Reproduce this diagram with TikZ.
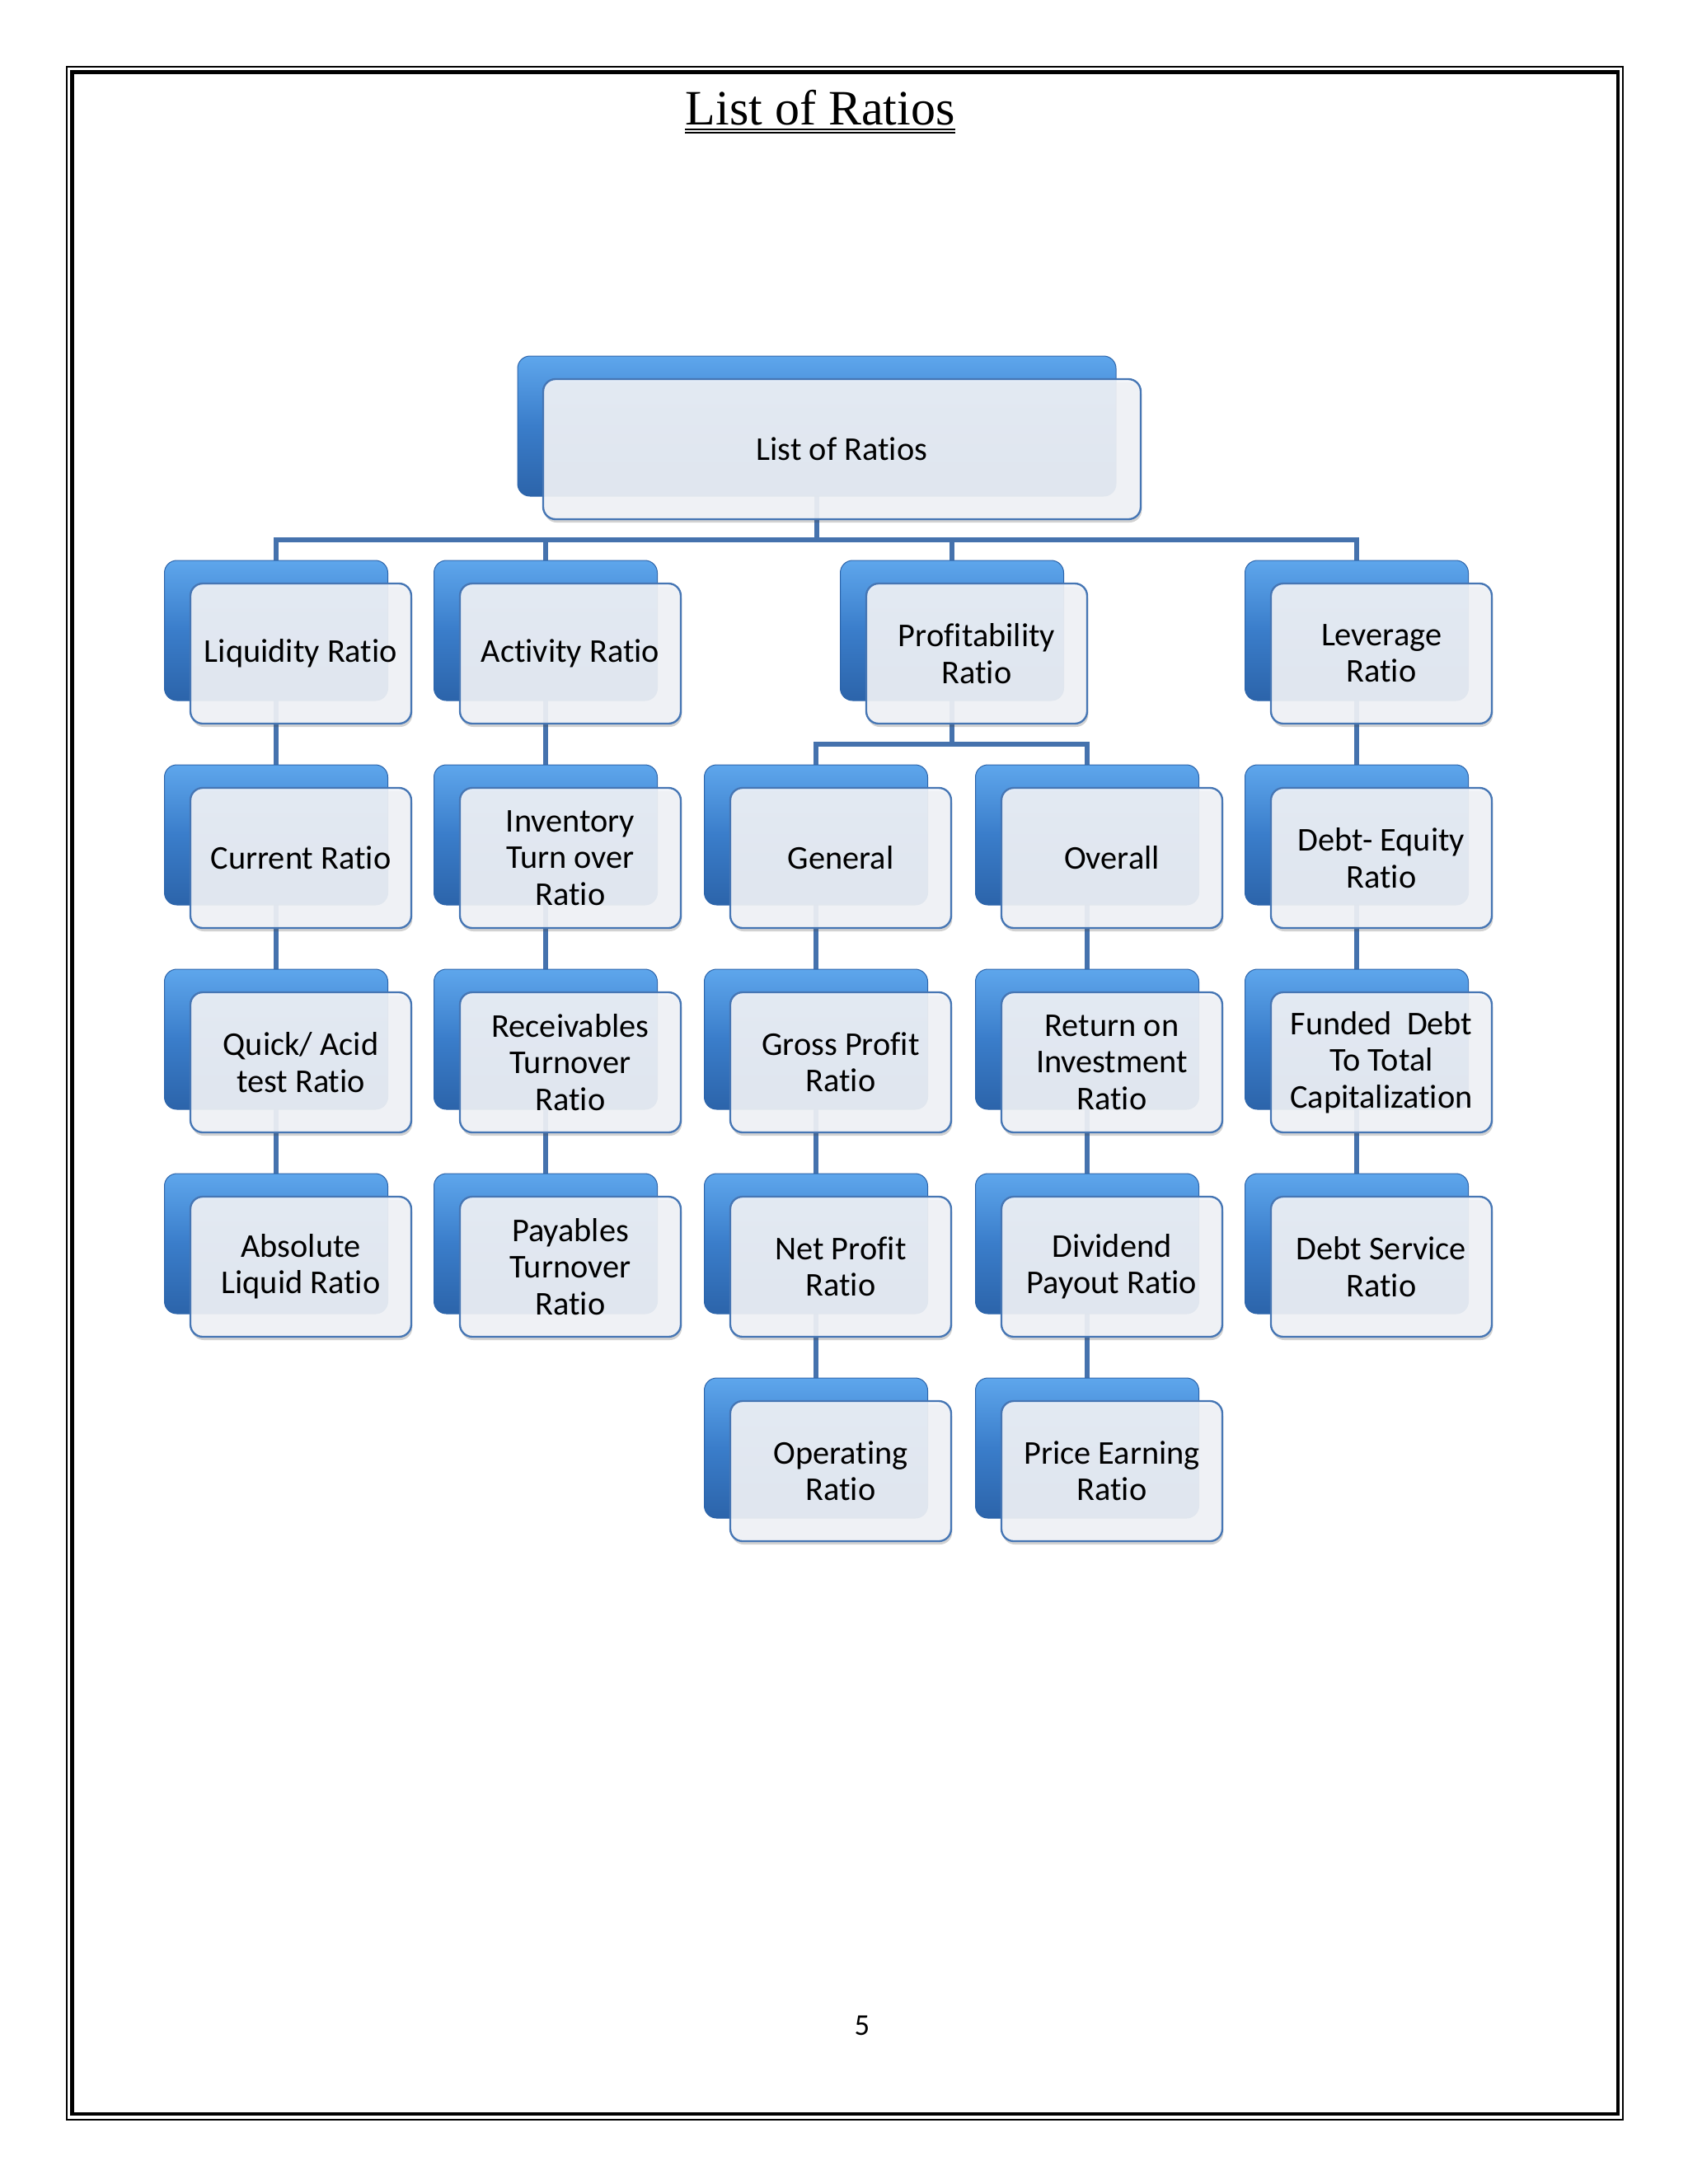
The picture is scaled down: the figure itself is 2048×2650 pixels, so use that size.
\documentclass[tikz,border=0pt]{standalone}
\usepackage{fontspec}
\setmainfont{Carlito}[Ligatures={NoCommon}]
\newfontfamily\titlefont{Liberation Serif}
\usetikzlibrary{shadows,backgrounds}
\definecolor{conn}{HTML}{4572AD}
\definecolor{backtop}{HTML}{5EA6EC}
\definecolor{backmid}{HTML}{3A7DCA}
\definecolor{backbot}{HTML}{2C64AA}
\definecolor{frontfill}{HTML}{F3F5F9}
\definecolor{frontline}{HTML}{4676B4}
\newcommand\rbox[4]{%
  \node[backbox] (#1-b) at (#2-30,#3-28) {};
  \node[frontbox] (#1) at (#2,#3) {#4};}
\begin{document}
\begin{tikzpicture}[x=0.3pt,y=-0.3pt,
  backbox/.style={rounded corners=4.5pt, minimum width=81.3pt, minimum height=51pt,
    inner sep=0pt, top color=backtop, bottom color=backbot, middle color=backmid,
    draw=backbot, line width=0.3pt},
  frontbox/.style={rounded corners=4.5pt, minimum width=80.4pt, minimum height=51pt,
    inner sep=2pt, fill=frontfill, fill opacity=0.9, text opacity=1, draw=frontline,
    line width=0.7pt, align=center, font=\fontsize{12.1}{13.3}\selectfont, text=black,
    drop shadow={shadow xshift=0.4pt, shadow yshift=-1.2pt, opacity=0.25, fill=black!70}},
  link/.style={draw=conn, line width=1.8pt}]
\useasboundingbox (0,0) rectangle (2048,2650);
% page border
\draw[line width=0.6pt] (81,81) rectangle (1969,2571.7);
\draw[line width=1.4pt] (87.5,87.5) rectangle (1963,2565);
% title
\node[inner sep=0pt, anchor=base, font=\titlefont\fontsize{18}{20}\selectfont] (title) at (995,151) {List of Ratios};
\draw[line width=0.5pt] ([yshift=-1.8pt]title.base west) -- ([yshift=-1.8pt]title.base east);
\draw[line width=0.5pt] ([yshift=-3.05pt]title.base west) -- ([yshift=-3.05pt]title.base east);
% root
\node[backbox, minimum width=217.8pt] (root-b) at (991,517) {};
\node[frontbox, minimum width=217.5pt] (root) at (1021.5,545) {List of Ratios};
% row 1
\rbox{liq}{365}{793}{Liquidity Ratio}
\rbox{act}{692}{793}{Activity Ratio}
\rbox{prof}{1185}{793}{Profitability\\Ratio}
\rbox{lev}{1676}{793}{Leverage\\Ratio}
% row 2
\rbox{cur}{365}{1041}{Current Ratio}
\rbox{inv}{692}{1041}{Inventory\\Turn over\\Ratio}
\rbox{gen}{1020}{1041}{General}
\rbox{ovr}{1349}{1041}{Overall}
\rbox{de}{1676}{1041}{Debt- Equity\\Ratio}
% row 3
\rbox{quick}{365}{1289}{Quick/ Acid\\test Ratio}
\rbox{rec}{692}{1289}{Receivables\\Turnover\\Ratio}
\rbox{gp}{1020}{1289}{Gross Profit\\Ratio}
\rbox{roi}{1349}{1289}{Return on\\Investment\\Ratio}
\rbox{fd}{1676}{1289}{Funded\ \ Debt\\To Total\\Capitalization}
% row 4
\rbox{abs}{365}{1537}{Absolute\\Liquid Ratio}
\rbox{pay}{692}{1537}{Payables\\Turnover\\Ratio}
\rbox{np}{1020}{1537}{Net Profit\\Ratio}
\rbox{div}{1349}{1537}{Dividend\\Payout Ratio}
\rbox{ds}{1676}{1537}{Debt Service\\Ratio}
% row 5
\rbox{op}{1020}{1785}{Operating\\Ratio}
\rbox{pe}{1349}{1785}{Price Earning\\Ratio}
% page number
\node[font=\fontsize{11}{13}\selectfont] (pnum) at (1046,2458) {5};
% connectors
\begin{scope}[on background layer]
\coordinate (bus) at (0,655);
\coordinate (pbus) at (0,903);
\draw[link] (root-b.center) -- (root-b.center |- bus);
\draw[link] (liq-b.center) -- (liq-b.center |- bus) -- (lev-b.center |- bus) -- (lev-b.center);
\draw[link] (act-b.center) -- (act-b.center |- bus);
\draw[link] (prof-b.center |- bus) -- (prof-b.center |- pbus);
\draw[link] (gen-b.center) -- (gen-b.center |- pbus) -- (ovr-b.center |- pbus) -- (ovr-b.center);
\draw[link] (liq-b.center) -- (cur-b.center) -- (quick-b.center) -- (abs-b.center);
\draw[link] (act-b.center) -- (inv-b.center) -- (rec-b.center) -- (pay-b.center);
\draw[link] (gen-b.center) -- (gp-b.center) -- (np-b.center) -- (op-b.center);
\draw[link] (ovr-b.center) -- (roi-b.center) -- (div-b.center) -- (pe-b.center);
\draw[link] (lev-b.center) -- (de-b.center) -- (fd-b.center) -- (ds-b.center);
\end{scope}
\end{tikzpicture}
\end{document}
